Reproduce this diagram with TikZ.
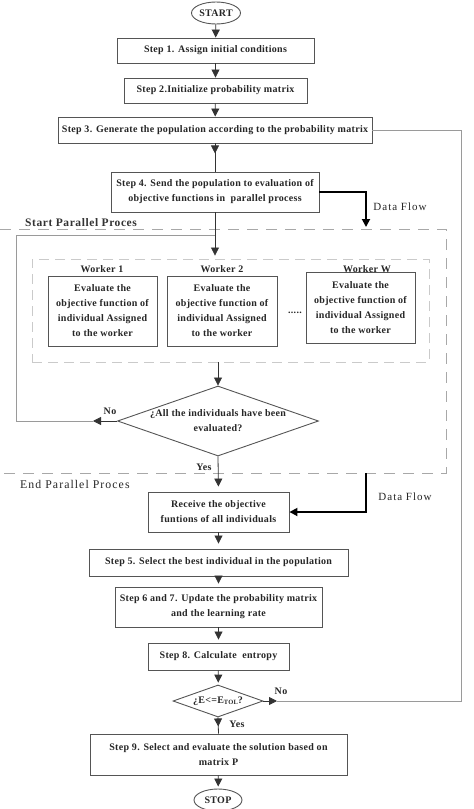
\documentclass[tikz,border=0pt]{standalone}
\usepackage{fontspec}
\setmainfont{Liberation Serif}[LetterSpace=3]
\newfontfamily\lblfont{Liberation Serif}[LetterSpace=9]
\newfontfamily\hdrfont{Liberation Serif}[LetterSpace=5]
\usetikzlibrary{arrows.meta,shapes.geometric,decorations.markings}
\definecolor{boxc}{HTML}{555555}
\definecolor{linec}{HTML}{333333}
\definecolor{loopc}{HTML}{9A9A9A}
\definecolor{dashc}{HTML}{A8A8A8}
\definecolor{idashc}{HTML}{CACACA}
\begin{document}
\begin{tikzpicture}[x=1pt,y=-1pt,
  txt/.style={font=\bfseries\fontsize{10}{15}\selectfont, align=center, inner sep=0pt, text=black!85},
  box/.style={txt, draw=boxc, line width=0.9pt, fill=white, rectangle},
  term/.style={txt, draw=boxc, line width=0.9pt, ellipse, inner sep=0pt},
  dia/.style={draw=boxc, line width=0.9pt, diamond, inner sep=0pt},
  arr/.style={draw=linec, line width=0.8pt, -{Triangle[length=8pt,width=8pt]}},
  plain/.style={draw=linec, line width=0.8pt},
  nearhead/.style={draw=linec, line width=0.8pt, postaction=decorate,
    decoration={markings, mark=at position #1 with {\arrow{Triangle[length=8pt,width=8pt]}}}},
  thickarr/.style={draw=black, line width=1.8pt, -{Triangle[length=8pt,width=8pt]}},
  loopline/.style={draw=loopc, line width=0.9pt},
  hdr/.style={font=\hdrfont\bfseries\fontsize{11.5}{13}\selectfont, inner sep=0pt, text=black!80},
  lbl/.style={font=\lblfont\fontsize{11}{13}\selectfont, inner sep=0pt, text=black!85},
  yn/.style={txt, font=\bfseries\fontsize{10}{12}\selectfont}
]
\useasboundingbox (0,0) rectangle (474,809);

% parallel region
\draw[dashc, line width=1pt, dash pattern=on 11pt off 8pt] (0,229) -- (446,229) -- (446,473) -- (0,473);
\node[hdr, anchor=base west] (sp) at (25,226) {Start Parallel Proces};
\node[lbl, font=\lblfont\fontsize{11.8}{13}\selectfont, anchor=base west] (ep) at (20,488) {End Parallel Proces};

% inner dashed box
\node[draw=idashc, line width=0.9pt, dash pattern=on 10pt off 6pt, minimum width=397pt, minimum height=103pt, inner sep=0pt] (inner) at (230.5,310.5) {};

% nodes
\node[term, minimum width=49pt, minimum height=22pt] (start) at (216,13) {START};
\node[box, minimum width=197pt, minimum height=25pt] (s1) at (215.5,50.5) {Step 1. Assign initial conditions};
\node[box, minimum width=183pt, minimum height=25pt] (s2) at (215.5,90.5) {Step 2.Initialize probability matrix};
\node[box, minimum width=314pt, minimum height=26pt] (s3) at (215,130) {Step 3. Generate the population according to the probability matrix};
\node[box, minimum width=208pt, minimum height=40pt] (s4) at (215,192) {Step 4. Send the population to evaluation of\\objective functions in\ \ parallel process};

\node[box, minimum width=109pt, minimum height=70pt] (w1) at (102.5,311) {Evaluate the\\objective function of\\individual Assigned\\to the worker};
\node[box, minimum width=110pt, minimum height=70pt] (w2) at (222,311) {Evaluate the\\objective function of\\individual Assigned\\to the worker};
\node[box, minimum width=109pt, minimum height=71pt] (ww) at (360.5,307.5) {Evaluate the\\objective function of\\individual Assigned\\to the worker};
\node[txt] (w1l) at (102,269) {Worker 1};
\node[txt] (w2l) at (222,269) {Worker 2};
\node[txt] (wwl) at (367,269) {Worker W};
\node[txt] (dots) at (295,313) {.....};

\node[dia, minimum width=201pt, minimum height=70pt] (d1) at (218,421) {};
\node[txt] (d1t) at (d1.center) {¿All the individuals have been\\evaluated?};

\node[box, minimum width=141pt, minimum height=40pt] (rcv) at (218.5,512) {Receive the objective\\funtions of all individuals};
\node[box, minimum width=259pt, minimum height=27pt] (s5) at (218.5,562.5) {Step 5. Select the best individual in the population};
\node[box, minimum width=207pt, minimum height=40pt] (s67) at (218.5,607) {Step 6 and 7. Update the probability matrix\\and the learning rate};
\node[box, minimum width=141pt, minimum height=27pt] (s8) at (218.5,656.5) {Step 8. Calculate\ \ entropy};
\node[dia, minimum width=90pt, minimum height=32pt] (d2) at (218,701) {};
\node[txt] (d2t) at (d2.center) {¿E<=E\raisebox{-0.35ex}{\fontsize{6.5}{7}\selectfont TOL}?};
\node[box, minimum width=257pt, minimum height=41pt] (s9) at (218.5,754.5) {Step 9. Select and evaluate the solution based on\\matrix P};
\node[term, minimum width=48pt, minimum height=22pt] (stop) at (218,800) {STOP};

% labels
\node[lbl] (df1l) at (400,207) {Data Flow};
\node[lbl] (df2l) at (405,497) {Data Flow};
\node[yn] (no1) at (110,411) {No};
\node[yn] (yes1) at (204,467) {Yes};
\node[yn] (no2) at (281,691) {No};
\node[yn] (yes2) at (237,724) {Yes};

% coordinates
\coordinate (df1) at (366,227);
\coordinate (df2) at (366,473);
\coordinate (nl) at (93,421);
\coordinate (lc1) at (16,235);
\coordinate (lc2) at (215,235);
\coordinate (nr) at (277,701);
\coordinate (rc) at (461,701);

% connectors
\draw[arr] (start) -- (s1);
\draw[arr] (s1) -- (s2);
\draw[arr] (s2) -- (s3);
\draw[nearhead=10pt] (s3.south) -- (s4.north);
\draw[arr, shorten >=3pt] (s4.south) -- (s4.south |- inner.north);
\draw[thickarr] (s4.east) -| (df1);
\draw[arr] (d1 |- inner.south) -- (d1.north);
\draw[arr] (d1.west) -- (nl);
\draw[loopline] (nl) -| (lc1) -- (lc2);
\draw[arr, shorten >=5pt] (d1.south) -- (rcv.north);
\draw[thickarr] (df2) |- (rcv.east);
\draw[arr, shorten >=5pt] (rcv) -- (s5);
\draw[arr, shorten >=3pt] (s5) -- (s67);
\draw[arr, shorten >=3pt] (s67) -- (s8);
\draw[arr, shorten >=2pt] (s8) -- (d2);
\draw[nearhead=9pt] (d2.south) -- (s9.north);
\draw[arr] (d2.east) -- (nr);
\draw[loopline] (nr) -- (rc) |- (s3.east);
\draw[arr, shorten >=2pt] (s9) -- (stop);
\end{tikzpicture}
\end{document}
